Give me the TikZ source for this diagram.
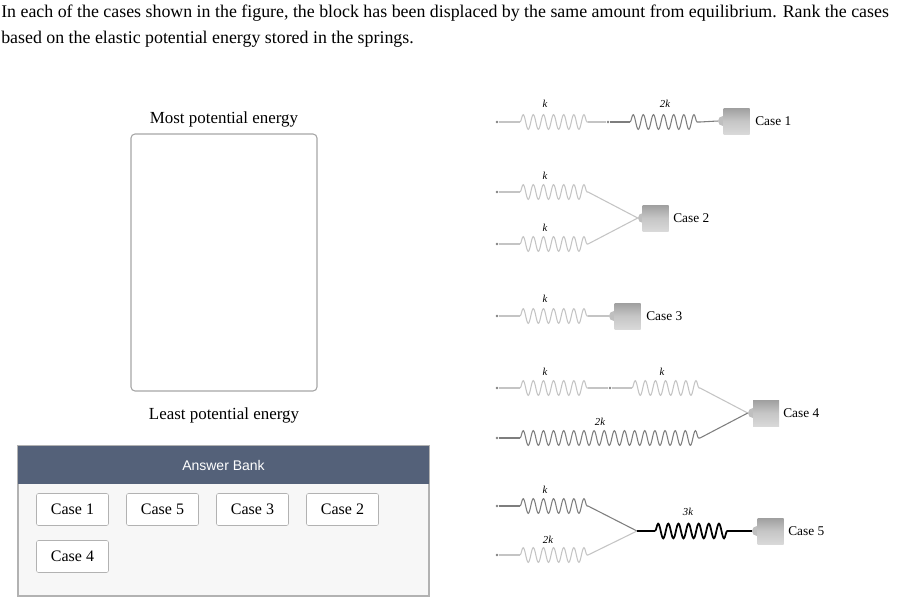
\documentclass[tikz,border=0pt]{standalone}
\usepackage{fontspec}
\setmainfont{Liberation Serif}
\newfontfamily\sansf{Liberation Sans}
\usetikzlibrary{decorations.pathmorphing}
\definecolor{lite}{HTML}{C4C4C4}
\definecolor{mid}{HTML}{7E7E7E}
\definecolor{hdr}{HTML}{546179}
\begin{document}
\begin{tikzpicture}[x=0.75pt,y=-0.75pt,
  spr/.style={decorate,decoration={snake,segment length=7.6pt,amplitude=5.5pt,pre length=0pt,post length=0pt},line width=0.8pt},
  lead/.style={line width=0.8pt},
  blk/.style={draw=none,top color=gray!75,bottom color=gray!30,middle color=gray!45,minimum width=19.5pt,minimum height=19.5pt,inner sep=0pt},
  knob/.style={circle,fill=gray!50,minimum size=7.5pt,inner sep=0pt},
  dot/.style={circle,fill=gray,inner sep=0pt,minimum size=2pt},
  lab/.style={font=\fontsize{8}{9}\selectfont\itshape,inner sep=0pt},
  cs/.style={font=\fontsize{10}{11}\selectfont,anchor=west,inner sep=0pt},
  btn/.style={draw=gray!60,rounded corners=1.5pt,fill=white,minimum width=54pt,minimum height=24pt,font=\fontsize{12}{14}\selectfont,inner sep=0pt}]
\useasboundingbox (0,0) rectangle (907,607);
% title
\node[anchor=base west,inner sep=0pt,font=\fontsize{13.4}{15}\selectfont] (t1) at (1,17) {In each of the cases shown in the figure, the block has been displaced by the same amount from equilibrium. Rank the cases};
\node[anchor=base west,inner sep=0pt,font=\fontsize{13.4}{15}\selectfont] (t2) at (1,43) {based on the elastic potential energy stored in the springs.};
% ranking box
\node[font=\fontsize{12.7}{14}\selectfont,inner sep=0pt] (most) at (224,119) {Most potential energy};
\node[draw=gray!70,line width=0.8pt,rounded corners=3pt,minimum width=139.5pt,minimum height=192.75pt,inner sep=0pt] (box) at (224,262.5) {};
\node[font=\fontsize{12.7}{14}\selectfont,inner sep=0pt] (least) at (224,415) {Least potential energy};
% answer bank
\node[draw=gray!60,fill=gray!6,line width=0.8pt,minimum width=308.25pt,minimum height=112.5pt,inner sep=0pt] (bank) at (223.5,521) {};
\node[fill=hdr,minimum width=308.25pt,minimum height=28.5pt,inner sep=0pt,text=white,font=\sansf\fontsize{10.5}{12}\selectfont] (hdr) at (223.5,465) {Answer Bank};
\node[btn] (b1) at (72.5,509.5) {Case 1};
\node[btn] (b5) at (162.5,509.5) {Case 5};
\node[btn] (b3) at (252.5,509.5) {Case 3};
\node[btn] (b2) at (342.5,509.5) {Case 2};
\node[btn] (b4) at (72.5,556.5) {Case 4};
% ---- Case 1
\node[dot] (c1d) at (497,122) {};
\coordinate (c1a) at (520,122); \coordinate (c1b) at (588,122);
\node[dot] (c1m) at (608,122) {};
\coordinate (c1c) at (630,122); \coordinate (c1e) at (700,122);
\node[knob] (K1) at (723,121) {};
\node[blk] (B1) at (736.5,121) {};
\draw[lead,lite] (c1d) -- (c1a); \draw[spr,lite] (c1a) -- (c1b); \draw[lead,lite] (c1b) -- (c1m);
\draw[lead,mid] (c1m) -- (c1c); \draw[spr,mid] (c1c) -- (c1e); \draw[lead,mid] (c1e) -- (K1.west);
\node[lab] (k1) at (545,104) {k}; \node[lab] (k2) at (665,104) {2k};
\node[cs] (L1) at (755,121) {Case 1};
% ---- Case 2
\node[dot] (c2d1) at (497,192) {}; \node[dot] (c2d2) at (497,244) {};
\coordinate (c2a1) at (520,192); \coordinate (c2b1) at (588,192);
\coordinate (c2a2) at (520,244); \coordinate (c2b2) at (588,244);
\node[knob] (K2) at (643,218) {};
\node[blk] (B2) at (655.5,218) {};
\draw[lead,lite] (c2d1) -- (c2a1); \draw[spr,lite] (c2a1) -- (c2b1); \draw[lead,lite] (c2b1) -- (K2.west);
\draw[lead,lite] (c2d2) -- (c2a2); \draw[spr,lite] (c2a2) -- (c2b2); \draw[lead,lite] (c2b2) -- (K2.west);
\node[lab] (k3) at (545,176) {k}; \node[lab] (k4) at (545,228) {k};
\node[cs] (L2) at (673,218) {Case 2};
% ---- Case 3
\node[dot] (c3d) at (497,316) {};
\coordinate (c3a) at (520,316); \coordinate (c3b) at (588,316);
\node[knob] (K3) at (614,316) {};
\node[blk] (B3) at (627.5,316) {};
\draw[lead,lite] (c3d) -- (c3a); \draw[spr,lite] (c3a) -- (c3b); \draw[lead,lite] (c3b) -- (K3.west);
\node[lab] (k5) at (545,299) {k};
\node[cs] (L3) at (646,316) {Case 3};
% ---- Case 4
\node[dot] (c4d1) at (497,388) {}; \node[dot] (c4m) at (610,388) {};
\node[dot] (c4d2) at (497,438) {};
\coordinate (c4a) at (520,388); \coordinate (c4b) at (588,388);
\coordinate (c4c) at (632,388); \coordinate (c4e) at (700,388);
\coordinate (c4f) at (520,438); \coordinate (c4g) at (700,438);
\node[knob] (K4) at (753,413) {};
\node[blk] (B4) at (766,413) {};
\draw[lead,lite] (c4d1) -- (c4a); \draw[spr,lite] (c4a) -- (c4b); \draw[lead,lite] (c4b) -- (c4m);
\draw[lead,lite] (c4m) -- (c4c); \draw[spr,lite] (c4c) -- (c4e); \draw[lead,lite] (c4e) -- (K4.west);
\draw[lead,mid] (c4d2) -- (c4f); \draw[spr,mid] (c4f) -- (c4g); \draw[lead,mid] (c4g) -- (K4.west);
\node[lab] (k6) at (545,372) {k}; \node[lab] (k7) at (662,372) {k}; \node[lab] (k8) at (600,422) {2k};
\node[cs] (L4) at (783,413) {Case 4};
% ---- Case 5
\node[dot] (c5d1) at (497,506) {}; \node[dot] (c5d2) at (497,555) {};
\coordinate (c5a1) at (520,506); \coordinate (c5b1) at (588,506);
\coordinate (c5a2) at (520,555); \coordinate (c5b2) at (588,555);
\coordinate (c5p) at (637,531);
\coordinate (c5s) at (655,531); \coordinate (c5t) at (730,531);
\node[knob] (K5) at (757,531) {};
\node[blk] (B5) at (770.5,531) {};
\draw[lead,mid] (c5d1) -- (c5a1); \draw[spr,mid] (c5a1) -- (c5b1); \draw[lead,mid] (c5b1) -- (c5p);
\draw[lead,lite] (c5d2) -- (c5a2); \draw[spr,lite] (c5a2) -- (c5b2); \draw[lead,lite] (c5b2) -- (c5p);
\draw[lead,black,line width=1.3pt] (c5p) -- (c5s); \draw[spr,black,line width=1.3pt] (c5s) -- (c5t); \draw[lead,black,line width=1.3pt] (c5t) -- (K5.west);
\node[lab] (k9) at (545,490) {k}; \node[lab] (k10) at (688,512) {3k}; \node[lab] (k11) at (548,540) {2k};
\node[cs] (L5) at (788,531) {Case 5};
\end{tikzpicture}
\end{document}
